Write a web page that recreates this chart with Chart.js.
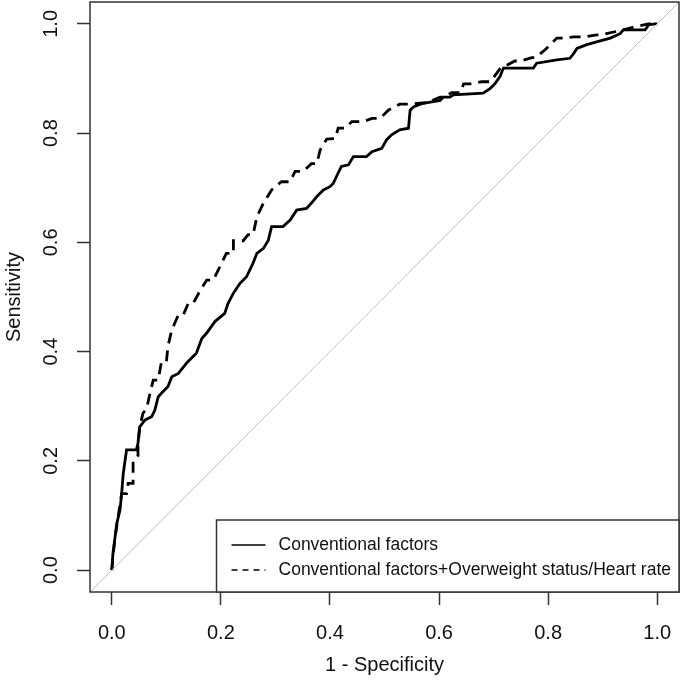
<!DOCTYPE html>
<html>
<head>
<meta charset="utf-8">
<script src="https://cdn.jsdelivr.net/npm/chart.js@4"></script>
<style>
  html, body { margin: 0; padding: 0; background: #fff; }
  #wrap { width: 682px; height: 685px; }
</style>
</head>
<body>
<div id="wrap"><canvas id="roc" width="682" height="685"></canvas></div>
<script>
// ROC curve: conventional factors (solid)
const convX = [0, 0.002, 0.006, 0.009, 0.015, 0.018, 0.021, 0.027, 0.045, 0.048, 0.051, 0.061, 0.073, 0.079, 0.085, 0.091,
  0.103, 0.110, 0.122, 0.137, 0.143, 0.155, 0.165, 0.174, 0.189, 0.207, 0.213, 0.223, 0.235, 0.247, 0.259, 0.266,
  0.278, 0.287, 0.293, 0.314, 0.327, 0.339, 0.357, 0.366, 0.376, 0.388, 0.400, 0.406, 0.415, 0.421, 0.434, 0.443,
  0.467, 0.477, 0.495, 0.504, 0.513, 0.528, 0.544, 0.547, 0.553, 0.568, 0.602, 0.608, 0.620, 0.626, 0.681, 0.694,
  0.703, 0.712, 0.718, 0.773, 0.779, 0.816, 0.840, 0.847, 0.853, 0.871, 0.889, 0.914, 0.932, 0.938, 0.978, 0.984,
  0.996, 1];
const convY = [0, 0.030, 0.061, 0.085, 0.110, 0.140, 0.177, 0.220, 0.220, 0.232, 0.262, 0.275, 0.281, 0.293, 0.317, 0.324,
  0.336, 0.354, 0.360, 0.379, 0.385, 0.397, 0.424, 0.434, 0.455, 0.470, 0.488, 0.507, 0.525, 0.537, 0.562, 0.580,
  0.589, 0.604, 0.629, 0.629, 0.641, 0.659, 0.662, 0.672, 0.684, 0.696, 0.702, 0.708, 0.727, 0.739, 0.742, 0.757,
  0.757, 0.766, 0.772, 0.788, 0.797, 0.806, 0.809, 0.842, 0.848, 0.854, 0.860, 0.866, 0.866, 0.870, 0.873, 0.882,
  0.891, 0.904, 0.919, 0.919, 0.928, 0.934, 0.937, 0.946, 0.955, 0.962, 0.967, 0.974, 0.982, 0.989, 0.989, 0.998,
  1.0, 1];

// ROC curve: conventional factors + overweight status / heart rate (dashed)
const fullX = [0, 0.002, 0.006, 0.012, 0.018, 0.027, 0.030, 0.039, 0.039, 0.048, 0.048, 0.051, 0.057, 0.064, 0.070, 0.076,
  0.085, 0.091, 0.100, 0.103, 0.110, 0.122, 0.131, 0.140, 0.149, 0.161, 0.174, 0.186, 0.198, 0.210, 0.223, 0.223,
  0.241, 0.250, 0.259, 0.266, 0.278, 0.293, 0.311, 0.327, 0.336, 0.351, 0.366, 0.376, 0.382, 0.394, 0.410, 0.415,
  0.428, 0.440, 0.461, 0.477, 0.492, 0.507, 0.528, 0.547, 0.580, 0.602, 0.608, 0.623, 0.639, 0.645, 0.657, 0.678,
  0.694, 0.712, 0.739, 0.749, 0.770, 0.776, 0.794, 0.816, 0.825, 0.847, 0.865, 0.889, 0.898, 0.938, 0.960, 0.984, 1];
const fullY = [0, 0.024, 0.060, 0.100, 0.140, 0.140, 0.159, 0.159, 0.200, 0.210, 0.230, 0.260, 0.287, 0.296, 0.324, 0.348,
  0.348, 0.381, 0.381, 0.410, 0.440, 0.467, 0.467, 0.488, 0.488, 0.510, 0.531, 0.531, 0.555, 0.580, 0.580, 0.603,
  0.603, 0.614, 0.614, 0.647, 0.672, 0.696, 0.711, 0.711, 0.730, 0.730, 0.744, 0.744, 0.769, 0.789, 0.790, 0.809,
  0.809, 0.821, 0.821, 0.827, 0.827, 0.842, 0.853, 0.853, 0.856, 0.866, 0.866, 0.874, 0.874, 0.890, 0.890, 0.894,
  0.894, 0.918, 0.932, 0.932, 0.938, 0.938, 0.952, 0.974, 0.974, 0.976, 0.976, 0.980, 0.980, 0.989, 0.995, 1.0, 1];

const seriesLabels = ["Conventional factors", "Conventional factors+Overweight status/Heart rate"];
const axisMin = -0.04;
const axisMax = 1.04;
const tickStep = 0.2;

function toPoints(xs, ys) {
  return xs.map((x, i) => ({ x: x, y: ys[i] }));
}

const ink = "#111";
const FONT = "'Liberation Sans', Arial, sans-serif";

// box around plot + legend box in bottom right corner (R style)
const rBox = {
  id: "rBox",
  afterDraw(chart) {
    const ctx = chart.ctx;
    const a = chart.chartArea;
    ctx.save();
    ctx.strokeStyle = "#333";
    ctx.lineWidth = 1.5;
    ctx.setLineDash([]);
    ctx.strokeRect(a.left, a.top, a.right - a.left, a.bottom - a.top);

    // legend
    const items = chart.data.datasets.filter(d => d.label);
    ctx.font = "17.5px " + FONT;
    let w = 0;
    items.forEach(d => { w = Math.max(w, ctx.measureText(d.label).width); });
    const right = a.right;
    const bottom = a.bottom;
    const left = right - w - 70;
    const top = bottom - 72;
    ctx.fillStyle = "#fff";
    ctx.fillRect(left, top, right - left, bottom - top);
    ctx.strokeRect(left, top, right - left, bottom - top);
    items.forEach((d, i) => {
      const y = top + 25 + i * 25;
      ctx.strokeStyle = "#000";
      ctx.lineWidth = 1.5;
      ctx.setLineDash(d.borderDash && d.borderDash.length ? [6, 5] : []);
      ctx.beginPath();
      ctx.moveTo(left + 15, y);
      ctx.lineTo(left + 49, y);
      ctx.stroke();
      ctx.setLineDash([]);
      ctx.fillStyle = ink;
      ctx.textAlign = "left";
      ctx.textBaseline = "middle";
      ctx.fillText(d.label, left + 62, y);
    });
    ctx.restore();
  }
};

const chart = new Chart("roc", {
  type: "line",
  data: {
    datasets: [
      {
        label: "",
        data: toPoints([axisMin, axisMax], [axisMin, axisMax]),
        borderColor: "#c0c0c0",
        borderWidth: 1,
        pointRadius: 0,
        tension: 0,
      },
      {
        label: seriesLabels[0],
        data: toPoints(convX, convY),
        borderColor: "#000",
        borderWidth: 2.8,
        pointRadius: 0,
        tension: 0,
      },
      {
        label: seriesLabels[1],
        data: toPoints(fullX, fullY),
        borderColor: "#000",
        borderWidth: 2.8,
        borderDash: [11, 7],
        pointRadius: 0,
        tension: 0,
      },
    ],
  },
  options: {
    responsive: false,
    animation: false,
    layout: { padding: { top: 2, right: 3, left: 0, bottom: 0 } },
    plugins: {
      legend: { display: false },
      tooltip: { enabled: false },
    },
    scales: {
      x: {
        type: "linear",
        min: axisMin,
        max: axisMax,
        afterFit(scale) {
          scale.height = 93;
          scale.paddingLeft = 0;
          scale.paddingRight = 0;
        },
        grid: { drawOnChartArea: false, drawTicks: true, tickLength: 13, tickColor: "#333", tickWidth: 1.5 },
        border: { display: false },
        ticks: {
          stepSize: tickStep,
          includeBounds: false,
          padding: 16,
          color: ink,
          font: { family: FONT, size: 20 },
          callback: v => Number(v).toFixed(1),
        },
        title: {
          display: true,
          text: "1 - Specificity",
          color: ink,
          font: { family: FONT, size: 20 },
          padding: { top: 0, bottom: 8 },
        },
      },
      y: {
        type: "linear",
        min: axisMin,
        max: axisMax,
        afterFit(scale) {
          scale.width = 90;
          scale.paddingTop = 0;
          scale.paddingBottom = 0;
        },
        grid: { drawOnChartArea: false, drawTicks: true, tickLength: 13, tickColor: "#333", tickWidth: 1.5 },
        border: { display: false },
        ticks: {
          stepSize: tickStep,
          includeBounds: false,
          padding: 12,
          minRotation: 90,
          maxRotation: 90,
          crossAlign: "center",
          color: ink,
          font: { family: FONT, size: 20 },
          callback: v => Number(v).toFixed(1),
        },
        title: {
          display: true,
          text: "Sensitivity",
          color: ink,
          font: { family: FONT, size: 20 },
          padding: { top: 2, bottom: 0 },
        },
      },
    },
  },
  plugins: [rBox],
});
</script>
</body>
</html>
